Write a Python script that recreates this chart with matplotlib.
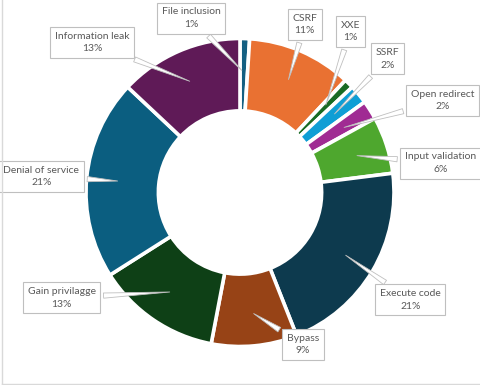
import numpy as np
import matplotlib
matplotlib.use("Agg")
import matplotlib.pyplot as plt
from matplotlib.lines import Line2D

labels = ["File inclusion", "CSRF", "XXE", "SSRF", "Open redirect",
          "Input validation", "Execute code", "Bypass", "Gain privilagge",
          "Denial of service", "Information leak"]
values = [1, 11, 1, 2, 2, 6, 21, 9, 13, 21, 13]
colors = ["#156082", "#E97132", "#196B24", "#0F9ED5", "#A02B93", "#4EA72E",
          "#0D3A4E", "#974316", "#0E4016", "#0B5E80", "#5F1A57"]

# label box centres (pixels from top-left of the 480x385 figure)
label_px = [(192, 20), (304, 26), (349, 33), (386, 60), (440, 101),
            (438, 163), (408, 298), (302, 342), (64, 296), (44, 176), (94, 44)]

W, H = 480, 385
cx, cy, R = 240, 192, 152

plt.rcParams['font.family'] = ['Lato', 'DejaVu Sans']
fig = plt.figure(figsize=(W / 100, H / 100), dpi=100)
ax = fig.add_axes([0, 0, 1, 1])
ax.set_xlim(-cx / R, (W - cx) / R)
ax.set_ylim(-(H - cy) / R, cy / R)
ax.set_aspect('equal')
ax.axis('off')

wedges, _ = ax.pie(values, colors=colors, startangle=90, counterclock=False,
                   radius=1.0, wedgeprops=dict(width=0.47, edgecolor='white', linewidth=2.6))

total = sum(values)
for w, lab, v, (px, py) in zip(wedges, labels, values, label_px):
    ang = np.deg2rad((w.theta1 + w.theta2) / 2)
    tip = (0.78 * np.cos(ang), 0.78 * np.sin(ang))
    pos = ((px - cx) / R, (cy - py) / R)
    ax.annotate(f"{lab}\n{round(100 * v / total)}%", xy=tip, xytext=pos,
                ha='center', va='center', fontsize=7.5, color='#595959',
                linespacing=1.5,
                bbox=dict(boxstyle='square,pad=0.45', fc='white', ec='#BFBFBF', lw=0.8),
                arrowprops=dict(arrowstyle='wedge,tail_width=0.5,shrink_factor=0.5',
                                fc='white', ec='#BFBFBF', lw=0.6))

# chart area border (left and bottom visible)
fig.add_artist(Line2D([1.5 / W, 1.5 / W], [1.5 / H, 1], transform=fig.transFigure,
                      color='#D9D9D9', lw=1.0))
fig.add_artist(Line2D([1.5 / W, 1], [1.5 / H, 1.5 / H], transform=fig.transFigure,
                      color='#D9D9D9', lw=1.0))

fig.savefig("out.png", dpi=100)
